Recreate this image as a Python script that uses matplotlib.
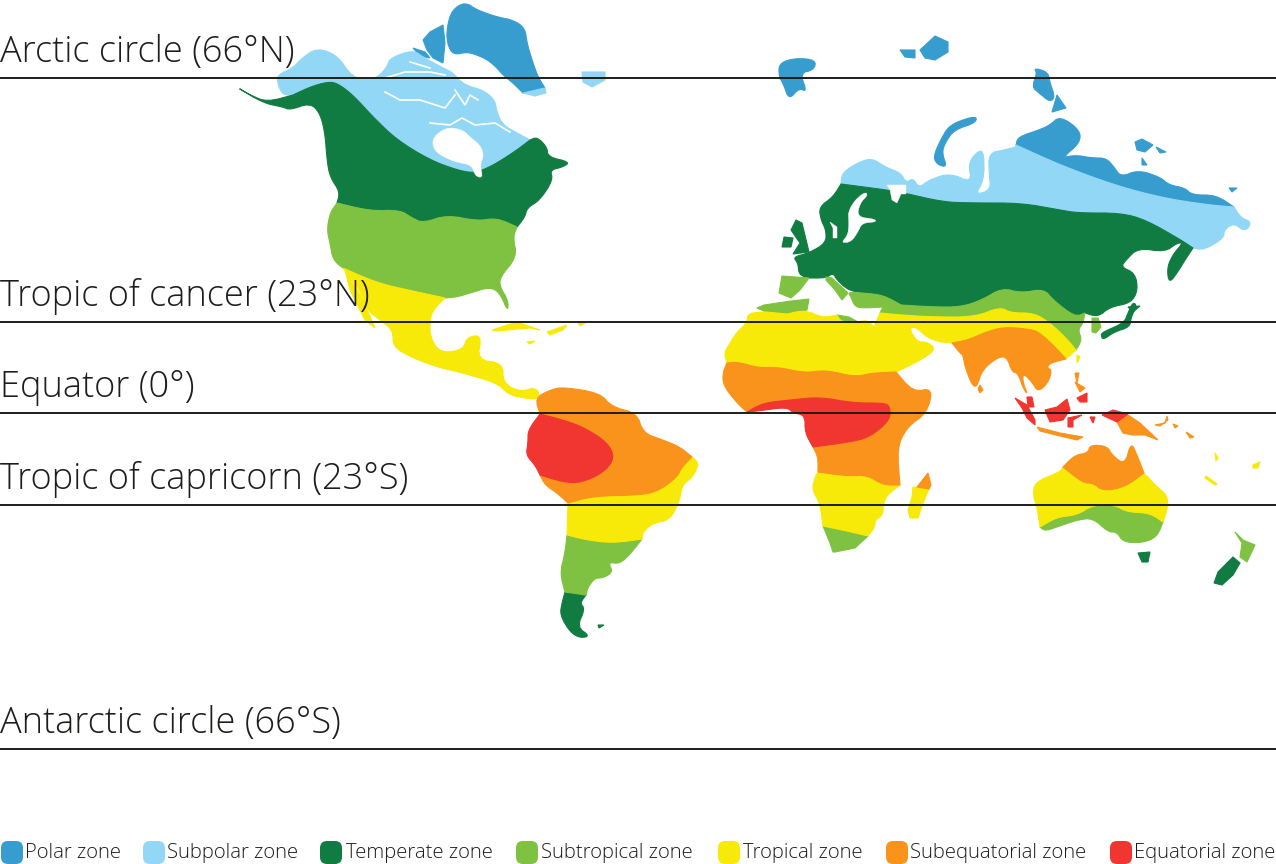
import matplotlib
matplotlib.use("Agg")
import matplotlib.pyplot as plt
from matplotlib.patches import FancyBboxPatch

plt.rcParams['font.family'] = ['Open Sans', 'DejaVu Sans']

ZONE_NAMES = ["Polar zone", "Subpolar zone", "Temperate zone", "Subtropical zone",
              "Tropical zone", "Subequatorial zone", "Equatorial zone"]
ZONE_COLORS = ["#379dcf", "#92d8f6", "#117c41", "#7fc241", "#f8ea08", "#f9931c", "#f13530"]
LEGEND_X = [1, 143, 320, 516, 718, 886, 1110]
LEGEND_TEXT_X = [25, 167, 346, 541, 743, 910, 1134]

LATITUDE_LABELS = ["Arctic circle (66°N)", "Tropic of cancer (23°N)", "Equator (0°)",
                   "Tropic of capricorn (23°S)", "Antarctic circle (66°S)"]
LATITUDE_Y = [77.5, 321.5, 413, 505, 748.5]

POLAR = [
    [(465,2),(477,10),(497,17),(513,20),(525,28),(527,43),(532,60),(538,77),(545,88),(523,93),(513,83),(503,75),(497,68),(488,60),(477,55),(467,52),(453,55),(447,43),(447,27),(452,10)],
    [(443,25),(445,43),(443,63),(433,58),(427,50),(423,40),(430,32)],
    [(413,48),(425,52),(430,58),(420,56)],
    [(779,63),(796,58),(816,60),(814,70),(800,73),(807,92),(799,88),(789,100),(783,83),(779,77)],
    [(900,50),(915,50),(915,58),(905,57)],
    [(920,50),(935,36),(948,42),(948,52),(935,60),(925,58)],
    [(1034,68),(1048,72),(1050,83),(1055,97),(1050,102),(1039,93),(1032,87),(1037,73)],
    [(1057,95),(1066,108),(1052,112)],
    [(977,117),(975,123),(954,130),(945,143),(942,153),(947,167),(938,165),(933,157),(942,137),(950,125),(968,118)],
    [(1016,145),(1018,137),(1039,130),(1050,125),(1060,116),(1080,130),(1080,143),(1062,158),(1075,155),(1092,158),(1106,158),(1114,167),(1121,177),(1138,170),(1160,177),(1169,185),(1185,188),(1192,195),(1216,195),(1234,207),(1209,205),(1163,198),(1114,185),(1060,165)],
    [(1135,142),(1142,139),(1153,145),(1145,152),(1137,150)],
    [(1156,147),(1166,152),(1160,153)],
    [(1142,158),(1147,165),(1142,165)],
    [(1229,188),(1237,188),(1232,192)],
]

SUBPOLAR = [
    [(277,75),(293,68),(302,58),(317,48),(337,55),(352,77),(367,80),(378,77),(387,67),(390,58),(413,50),(423,57),(443,68),(452,72),(464,85),(483,90),(495,100),(497,113),(503,125),(517,133),(530,140),(517,150),(497,163),(483,170),(473,173),(457,170),(430,160),(397,140),(373,117),(353,95),(337,83),(327,82),(310,87),(293,95),(283,95),(278,85)],
    [(582,72),(605,72),(605,80),(592,87),(583,82)],
    [(523,93),(545,88),(546,93),(535,96)],
    [(841,184),(842,173),(857,163),(872,158),(885,167),(901,173),(906,183),(913,178),(919,188),(929,180),(950,173),(972,183),(968,163),(979,150),(984,153),(984,180),(975,195),(991,190),(989,173),(989,153),(1004,150),(1016,147),(1016,145),(1060,165),(1114,185),(1163,198),(1209,205),(1234,207),(1241,218),(1252,222),(1245,232),(1234,223),(1224,230),(1224,238),(1204,250),(1193,248),(1181,240),(1146,220),(1121,213),(1078,213),(1060,210),(1021,203),(972,203),(943,202),(904,193),(887,190)],
]

TEMPERATE = [
    [(235,86),(250,95),(267,102),(293,95),(310,87),(327,82),(337,83),(353,95),(373,117),(397,140),(430,160),(457,170),(473,173),(483,170),(497,163),(517,150),(530,140),(537,137),(547,147),(548,157),(570,162),(563,167),(550,170),(553,180),(540,200),(527,208),(525,217),(517,227),(497,218),(477,221),(447,215),(423,223),(412,218),(400,210),(370,211),(337,203),(340,192),(330,177),(327,160),(325,133),(320,113),(310,103),(290,110),(283,107),(263,103)],
    [(841,184),(887,190),(904,193),(943,202),(972,203),(1021,203),(1060,210),(1078,213),(1121,213),(1146,220),(1181,240),(1193,248),(1185,260),(1179,270),(1169,284),(1167,267),(1174,253),(1183,243),(1177,243),(1165,252),(1138,248),(1126,260),(1121,267),(1135,273),(1138,290),(1131,303),(1110,307),(1098,317),(1085,313),(1075,317),(1053,300),(1044,289),(1021,293),(1002,288),(982,300),(961,307),(933,307),(901,305),(883,295),(862,293),(848,290),(837,280),(833,273),(826,278),(809,278),(799,275),(798,263),(793,257),(809,253),(826,243),(826,230),(821,220),(819,207),(833,197)],
    [(796,220),(802,223),(809,252),(793,254),(800,243),(791,230)],
    [(784,237),(793,238),(791,247),(782,247)],
    [(1101,335),(1103,332),(1124,323),(1128,313),(1133,302),(1137,306),(1131,317),(1130,327),(1114,332),(1103,340)],
    [(1128,307),(1140,306),(1133,312)],
    [(565,592),(586,595),(580,603),(585,609),(577,627),(590,636),(580,638),(570,632),(560,615),(562,603)],
    [(598,625),(604,625),(599,628)],
    [(1138,553),(1150,552),(1148,562),(1142,562)],
    [(1233,557),(1240,563),(1233,575),(1222,585),(1214,583),(1218,572)],
]

SUBTROPICAL = [
    [(337,203),(370,211),(400,210),(412,218),(423,223),(447,215),(477,221),(497,218),(517,227),(513,237),(517,257),(500,277),(500,287),(508,300),(508,312),(500,293),(490,287),(470,293),(457,297),(445,298),(417,292),(377,283),(343,268),(333,260),(330,243),(327,230),(330,213)],
    [(567,535),(587,540),(613,543),(642,539),(632,552),(620,564),(608,562),(613,572),(603,578),(595,578),(588,587),(586,595),(565,592),(560,573),(565,553)],
    [(823,526),(847,531),(868,536),(855,548),(835,552),(833,552),(830,543)],
    [(757,308),(764,305),(791,301),(809,299),(807,310),(787,314),(766,312)],
    [(837,315),(849,317),(858,322),(841,322)],
    [(782,276),(809,278),(800,290),(791,298),(779,293)],
    [(826,277),(832,278),(848,293),(842,300),(835,290),(826,280)],
    [(848,292),(862,293),(883,295),(901,305),(883,307),(865,308),(855,307),(851,297)],
    [(901,305),(933,307),(961,307),(982,300),(1002,288),(1021,293),(1044,289),(1053,300),(1075,317),(1085,313),(1083,323),(1078,330),(1082,340),(1076,350),(1066,338),(1050,323),(1034,313),(1011,313),(1000,307),(975,317),(933,317),(901,315),(880,313),(883,307)],
    [(1092,318),(1098,318),(1101,327),(1096,333),(1092,332)],
    [(1040,527),(1057,517),(1077,515),(1093,505),(1115,505),(1127,512),(1150,513),(1163,522),(1157,537),(1142,543),(1123,542),(1117,532),(1108,532),(1093,518),(1077,520),(1057,527),(1045,531)],
    [(1235,532),(1243,540),(1255,545),(1247,562),(1240,557),(1242,543)],
]

TROPICAL = [
    [(343,268),(377,283),(417,292),(445,298),(433,310),(430,320),(430,337),(440,353),(463,350),(467,337),(482,335),(477,360),(503,363),(503,383),(520,392),(537,387),(540,400),(517,397),(507,393),(497,383),(463,373),(437,367),(413,358),(393,347),(393,330),(380,320),(367,310),(360,290)],
    [(345,270),(363,300),(375,328),(365,320),(350,290)],
    [(492,330),(517,322),(540,330),(530,328),(497,331)],
    [(547,332),(567,325),(563,330),(550,335)],
    [(578,323),(585,323),(580,326)],
    [(527,342),(535,341),(530,344)],
    [(692,457),(699,463),(693,477),(682,485),(680,500),(670,520),(653,523),(643,532),(642,539),(613,543),(587,540),(567,535),(568,503),(593,496),(643,495),(660,490),(677,477),(682,467)],
    [(748,313),(747,323),(736,333),(729,345),(724,353),(727,363),(738,362),(759,368),(777,367),(805,373),(826,370),(855,377),(872,373),(896,372),(894,363),(887,350),(874,327),(867,320),(858,322),(841,322),(837,315),(823,318),(805,310),(787,314),(766,312)],
    [(874,327),(894,363),(896,372),(911,365),(929,355),(935,348),(927,342),(917,342),(909,328),(916,327),(928,338),(940,342),(952,343),(968,340),(986,332),(1004,327),(1028,329),(1039,332),(1055,347),(1066,359),(1076,350),(1066,338),(1050,323),(1034,313),(1011,313),(1000,307),(975,317),(933,317),(901,315),(880,313)],
    [(818,472),(847,476),(867,475),(883,485),(900,485),(887,495),(883,505),(883,515),(875,520),(875,527),(868,536),(847,531),(823,526),(820,503),(812,490),(815,477)],
    [(913,487),(929,489),(923,503),(918,518),(910,518),(908,510),(912,497)],
    [(1063,467),(1083,483),(1093,483),(1103,491),(1125,487),(1144,473),(1157,487),(1167,495),(1168,507),(1163,522),(1150,513),(1127,512),(1115,505),(1093,505),(1077,515),(1057,517),(1040,527),(1037,507),(1033,495),(1035,482),(1060,472)],
    [(1077,355),(1080,357),(1077,363)],
    [(1206,476),(1217,484),(1215,485),(1205,478)],
    [(1215,453),(1218,458),(1216,461)],
    [(1253,465),(1260,462),(1258,468),(1253,468)],
]

SUBEQUATORIAL = [
    [(535,398),(550,390),(563,387),(600,393),(612,407),(637,413),(643,433),(663,440),(680,447),(692,457),(682,467),(677,477),(660,490),(643,495),(593,496),(568,503),(557,493),(545,485),(540,475),(563,482),(580,483),(603,473),(615,458),(607,442),(583,427),(563,420),(540,414)],
    [(723,372),(727,363),(738,362),(759,368),(777,367),(805,373),(826,370),(855,377),(872,373),(896,372),(913,392),(933,388),(927,413),(907,427),(897,448),(900,485),(883,485),(867,475),(847,476),(818,472),(818,457),(813,447),(850,442),(870,437),(890,420),(890,407),(885,403),(853,403),(820,397),(790,400),(763,403),(747,412),(737,403),(723,385)],
    [(917,487),(928,473),(931,485),(929,489)],
    [(952,343),(968,340),(986,332),(1004,327),(1028,329),(1039,332),(1055,347),(1066,359),(1050,363),(1047,368),(1052,370),(1048,383),(1038,392),(1032,382),(1023,373),(1023,383),(1028,395),(1023,388),(1018,373),(1012,372),(1007,357),(998,357),(982,370),(977,387),(972,385),(965,367),(963,355),(960,353)],
    [(980,385),(983,390),(980,393),(978,389)],
    [(1075,373),(1079,373),(1077,383)],
    [(1075,382),(1085,388),(1080,392)],
    [(1117,422),(1128,415),(1140,423),(1158,440),(1145,435),(1132,435),(1123,433)],
    [(1037,427),(1060,433),(1083,437),(1077,440),(1060,436),(1040,431)],
    [(1155,425),(1165,423),(1167,416),(1168,420),(1160,426)],
    [(1173,424),(1178,426),(1175,428)],
    [(1186,432),(1194,437),(1190,438)],
    [(1063,467),(1075,455),(1088,453),(1090,445),(1107,446),(1112,455),(1125,465),(1131,442),(1137,455),(1144,473),(1125,487),(1103,491),(1093,483),(1083,483)],
]

EQUATORIAL = [
    [(540,414),(563,420),(583,427),(607,442),(615,458),(603,473),(580,483),(563,482),(540,475),(535,465),(526,455),(528,443),(528,430)],
    [(747,412),(763,403),(790,400),(820,397),(853,403),(885,403),(890,407),(890,420),(870,437),(850,442),(813,447),(805,433),(805,415),(793,413),(787,407),(758,411)],
    [(1015,398),(1027,405),(1035,420),(1035,425),(1027,418),(1022,408)],
    [(1027,397),(1032,397),(1034,407),(1028,407)],
    [(1045,410),(1057,407),(1067,399),(1070,410),(1063,420),(1050,422)],
    [(1068,418),(1082,415),(1073,420),(1073,427),(1068,427)],
    [(1077,398),(1087,393),(1087,402),(1080,402)],
    [(1102,415),(1113,410),(1128,414),(1117,422)],
    [(1090,417),(1095,417),(1093,423)],
]

WATER = [
    [(433,137),(447,127),(463,130),(470,137),(480,145),(484,155),(480,165),(483,178),(475,176),(472,165),(455,162),(440,155),(433,148)],
    [(865,192),(868,195),(860,203),(857,217),(875,219),(876,222),(862,223),(858,232),(851,242),(841,243),(848,235),(849,223),(848,212),(855,200)],
    [(830,222),(837,227),(837,238),(833,238),(833,228)],
    [(887,185),(906,185),(906,194),(901,194),(897,203),(892,200),(890,190)],
]

WATER_LINES = [
    [(385,92),(400,100),(420,100),(445,108),(455,95)],
    [(430,123),(450,125),(462,118),(475,125),(495,123),(510,132)],
    [(455,90),(465,105),(470,95),(478,100)],
    [(385,78),(405,72),(430,72),(445,75)],
    [(410,62),(430,68)],
]

ZONES = [POLAR, SUBPOLAR, TEMPERATE, SUBTROPICAL, TROPICAL, SUBEQUATORIAL, EQUATORIAL]

# Vertices where three or more borders meet stay fixed so zones still touch after rounding.
neighbours = {}
for rings in ZONES:
    for ring in rings:
        for i, p in enumerate(ring):
            neighbours.setdefault(p, set()).update({ring[i - 1], ring[(i + 1) % len(ring)]})
junctions = {p for p, near in neighbours.items() if len(near) > 2}


def rounded(ring):
    """Cut an outline's corners so borders read as curves, keeping junction vertices."""
    if len(ring) < 8:
        return ring
    pts = list(ring)
    for _ in range(2):
        out = []
        n = len(pts)
        for i, p in enumerate(pts):
            if p in junctions:
                out.append(p)
                continue
            a, b = pts[i - 1], pts[(i + 1) % n]
            out.append((0.75 * p[0] + 0.25 * a[0], 0.75 * p[1] + 0.25 * a[1]))
            out.append((0.75 * p[0] + 0.25 * b[0], 0.75 * p[1] + 0.25 * b[1]))
        pts = out
    return pts


fig = plt.figure(figsize=(12.76, 8.64), dpi=100)
ax = fig.add_axes([0, 0, 1, 1])
ax.set_xlim(0, 1276)
ax.set_ylim(864, 0)
ax.axis("off")

for rings, color in zip(ZONES, ZONE_COLORS):
    for ring in rings:
        xs, ys = zip(*rounded(ring))
        ax.fill(xs, ys, facecolor=color, edgecolor=color, linewidth=0.8, zorder=2)

for ring in WATER:
    xs, ys = zip(*rounded(ring))
    ax.fill(xs, ys, facecolor="white", edgecolor="white", linewidth=0.3, zorder=3)
for line in WATER_LINES:
    xs, ys = zip(*line)
    ax.plot(xs, ys, color="white", linewidth=1.2, zorder=3)

for label, y in zip(LATITUDE_LABELS, LATITUDE_Y):
    ax.plot([0, 1276], [y, y], color="#1d1d1b", linewidth=1.4, zorder=4, solid_capstyle="butt")
    ax.text(0, y - 15.5, label, fontsize=26, color="#1d1d1b", fontweight="light",
            ha="left", va="baseline", zorder=5)

for name, color, x, tx in zip(ZONE_NAMES, ZONE_COLORS, LEGEND_X, LEGEND_TEXT_X):
    ax.add_patch(FancyBboxPatch((x + 5, 846), 12, 13, boxstyle="round,pad=5,rounding_size=7",
                                facecolor=color, edgecolor="none", zorder=3))
    ax.text(tx, 853, name, fontsize=14.6, color="#1d1d1b", fontweight="light",
            ha="left", va="center", zorder=5)

fig.savefig("out.png", dpi=100, facecolor="white")
